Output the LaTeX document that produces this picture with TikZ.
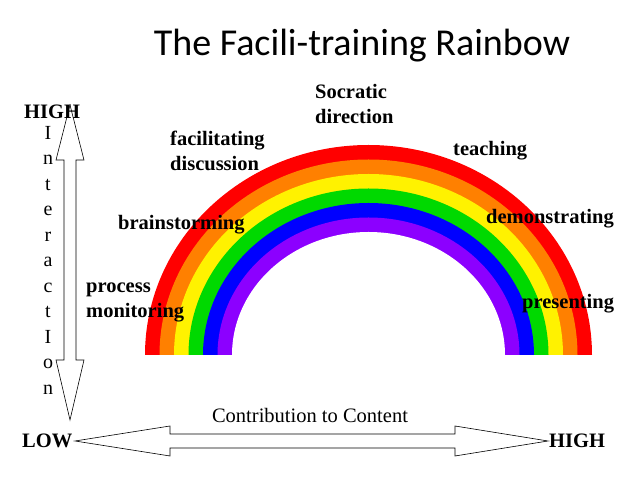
\documentclass[tikz,border=0pt]{standalone}
\usepackage{fontspec}
\setmainfont{Liberation Serif}
\newfontfamily\titlefont{Carlito}
\definecolor{vio}{RGB}{140,0,255}
\begin{document}
\begin{tikzpicture}[x=1pt,y=1pt,
  lab/.style={font=\fontsize{20.5}{25}\selectfont\bfseries, align=left, inner sep=0, anchor=west},
  arr/.style={draw=black, fill=white, line width=0.6pt}]
\useasboundingbox (0,0) rectangle (638,479);
\node[font=\titlefont\fontsize{38}{42}\selectfont] (title) at (362,433) {The Facili-training Rainbow};
% rainbow
\foreach \i/\c in {0/red,1/orange,2/yellow,3/green!85!black,4/blue,5/vio,6/white}{
  \fill[\c] ({145+14.5*\i},124) arc[start angle=180,end angle=0,x radius={223.5-14.5*\i},y radius={210-14.5*\i}] -- cycle;
}
% vertical arrow
\draw[arr] (70,374) -- (84,319) -- (76,319) -- (76,119) -- (84,119) -- (70,59) -- (56,119) -- (64,119) -- (64,319) -- (56,319) -- cycle;
% horizontal arrow
\draw[arr] (75,38) -- (170,53) -- (170,45) -- (455,45) -- (455,53) -- (548,38) -- (455,23) -- (455,31) -- (170,31) -- (170,23) -- cycle;
\node[lab] (hy) at (24,367) {HIGH};
\node[font=\fontsize{20}{25.5}\selectfont, align=center, inner sep=0] (inter) at (48,219) {I\\n\\t\\e\\r\\a\\c\\t\\I\\o\\n};
\node[lab] (low) at (22,38) {LOW};
\node[lab] (hx) at (549,38) {HIGH};
\node[font=\fontsize{20.5}{25}\selectfont, inner sep=0] (contrib) at (310,64) {Contribution to Content};
\node[lab] (soc) at (315,375) {Socratic\\direction};
\node[lab] (fac) at (170,328) {facilitating\\discussion};
\node[lab] (tea) at (453,328) {teaching};
\node[lab] (bra) at (118,254) {brainstorming};
\node[lab] (dem) at (486,260) {demonstrating};
\node[lab] (pro) at (86,177) {process\\monitoring};
\node[lab] (pre) at (522,175) {presenting};
\end{tikzpicture}
\end{document}
